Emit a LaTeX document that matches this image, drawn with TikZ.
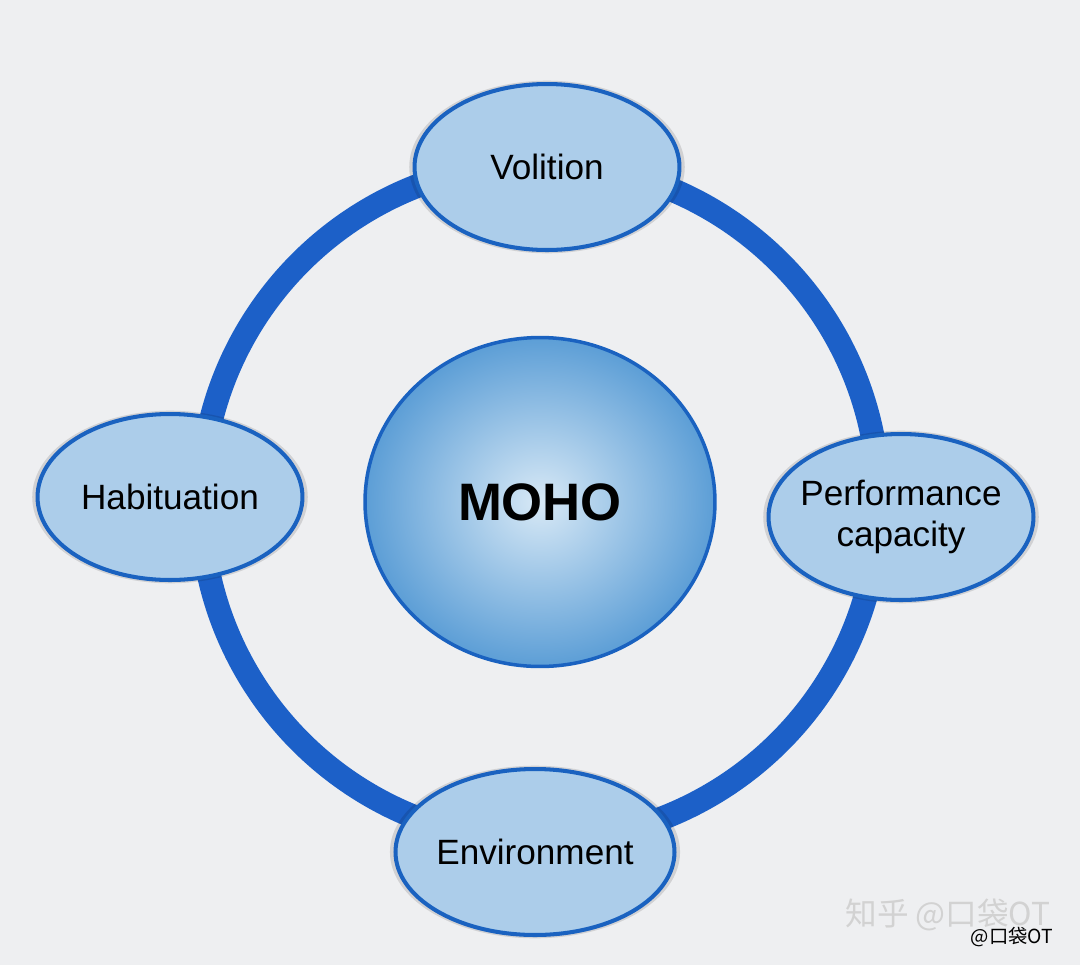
\documentclass[tikz,border=0pt]{standalone}
\usepackage{fontspec}
\setmainfont{Liberation Sans}
\newfontfamily\cjkfont{Noto Sans CJK SC}
\usetikzlibrary{shapes.geometric,shadows}
\definecolor{ringblue}{RGB}{28,96,200}
\definecolor{rimblue}{RGB}{26,98,192}
\definecolor{paleblue}{RGB}{172,205,234}
\definecolor{mohoouter}{RGB}{92,158,214}
\definecolor{mohoinner}{RGB}{216,233,246}
\definecolor{paper}{RGB}{238,239,241}

\begin{document}
\begin{tikzpicture}[
    x=0.02cm, y=-0.02cm,   % one unit = one pixel of the reference
    part/.style = {ellipse, draw=rimblue, line width=2.3pt, fill=paleblue,
                   minimum width=5.3cm, minimum height=3.32cm, inner sep=0pt,
                   align=center, font=\fontsize{20}{23}\selectfont,
                   general shadow={fill=black, opacity=0.12, shadow scale=1.04}},
    hub/.style = {ellipse, draw=rimblue, line width=2pt,
                  inner color=mohoinner, outer color=mohoouter,
                  minimum width=7cm, minimum height=6.58cm,
                  font=\fontsize{30}{34}\selectfont\bfseries},
    ring/.style = {draw=ringblue, line width=13.6pt}
  ]
    \fill[paper] (0,0) rectangle (1080,965);
    \useasboundingbox (0,0) rectangle (1080,965);

    \node[hub] (moho) at (540,502) {MOHO};
    % the ring runs behind the four parts
    \draw[ring] (moho.center) circle[radius=6.78cm];

    \node[part] (volition) at (547,167) {Volition};
    \node[part] (habituation) at (170,497) {Habituation};
    \node[part, inner xsep=-4pt] (performance) at (901,517) {Performance\\capacity}; % keep it as narrow as the others
    \node[part] (environment) at (535,852) {Environment};

    % watermark
    \node[text=gray!35, font=\cjkfont\fontsize{18}{20}\selectfont] (zhihu) at (948,915) {知乎 @口袋OT};
    \node[font=\cjkfont\fontsize{11}{13}\selectfont] (pocket) at (1012,937) {@口袋OT};
\end{tikzpicture}
\end{document}
